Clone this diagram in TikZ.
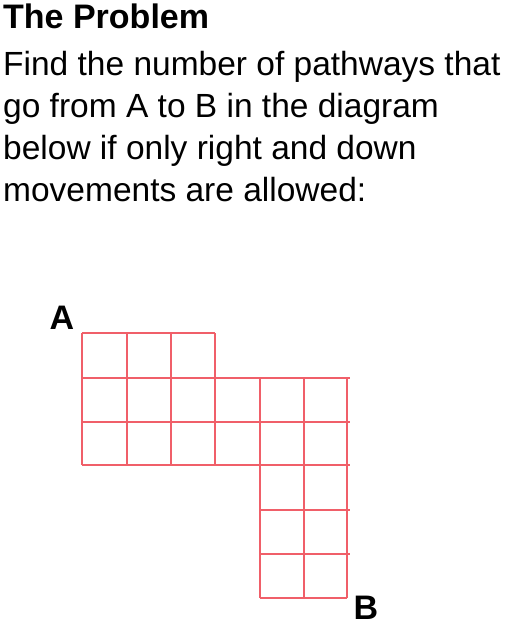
\documentclass[tikz,border=0pt]{standalone}
\usepackage{fontspec}
\setmainfont{Liberation Sans}
\definecolor{gridred}{RGB}{240,95,105}
\begin{document}
\begin{tikzpicture}[x=1pt,y=-1pt,
  gridline/.style={draw=gridred,line width=2pt},
  bodytext/.style={anchor=base west,inner sep=0pt,font=\fontsize{33.5}{40}\selectfont},
  headtext/.style={anchor=base west,inner sep=0pt,font=\fontsize{34}{40}\selectfont\bfseries},
  ptlabel/.style={inner sep=0pt,font=\fontsize{34}{40}\selectfont\bfseries}]
\useasboundingbox (0,0) rectangle (507,630);
\node[headtext] (head) at (3,28) {The Problem};
\node[bodytext] (l1) at (3,75) {Find the number of pathways that};
\node[bodytext] (l2) at (3,117) {go from A to B in the diagram};
\node[bodytext] (l3) at (3,159) {below if only right and down};
\node[bodytext] (l4) at (3,201) {movements are allowed:};
% grid coordinates
\def\xa{82}\def\xb{127}\def\xc{171}\def\xd{215}\def\xe{260}\def\xf{304}\def\xg{347}\def\xh{350}
\def\ya{333}\def\yb{378}\def\yc{422}\def\yd{465}\def\ye{510}\def\yf{554}\def\yg{598}
% top-left block 3x3
\foreach \y in {\ya,\yb,\yc,\yd} \draw[gridline] (\xa,\y) -- (\xd,\y);
\foreach \x in {\xa,\xb,\xc,\xd} \draw[gridline] (\x,\ya) -- (\x,\yd);
% middle block
\foreach \y in {\yb,\yc,\yd} \draw[gridline] (\xd,\y) -- (\xh,\y);
\foreach \x in {\xe,\xf,\xg} \draw[gridline] (\x,\yb) -- (\x,\yd);
% bottom block
\foreach \y in {\ye,\yf} \draw[gridline] (\xe,\y) -- (\xh,\y);
\draw[gridline] (\xe,\yg) -- (\xg,\yg);
\foreach \x in {\xe,\xf,\xg} \draw[gridline] (\x,\yd) -- (\x,\yg);
\node[ptlabel] (A) at (62,318) {A};
\node[ptlabel] (B) at (366,608) {B};
\end{tikzpicture}
\end{document}
